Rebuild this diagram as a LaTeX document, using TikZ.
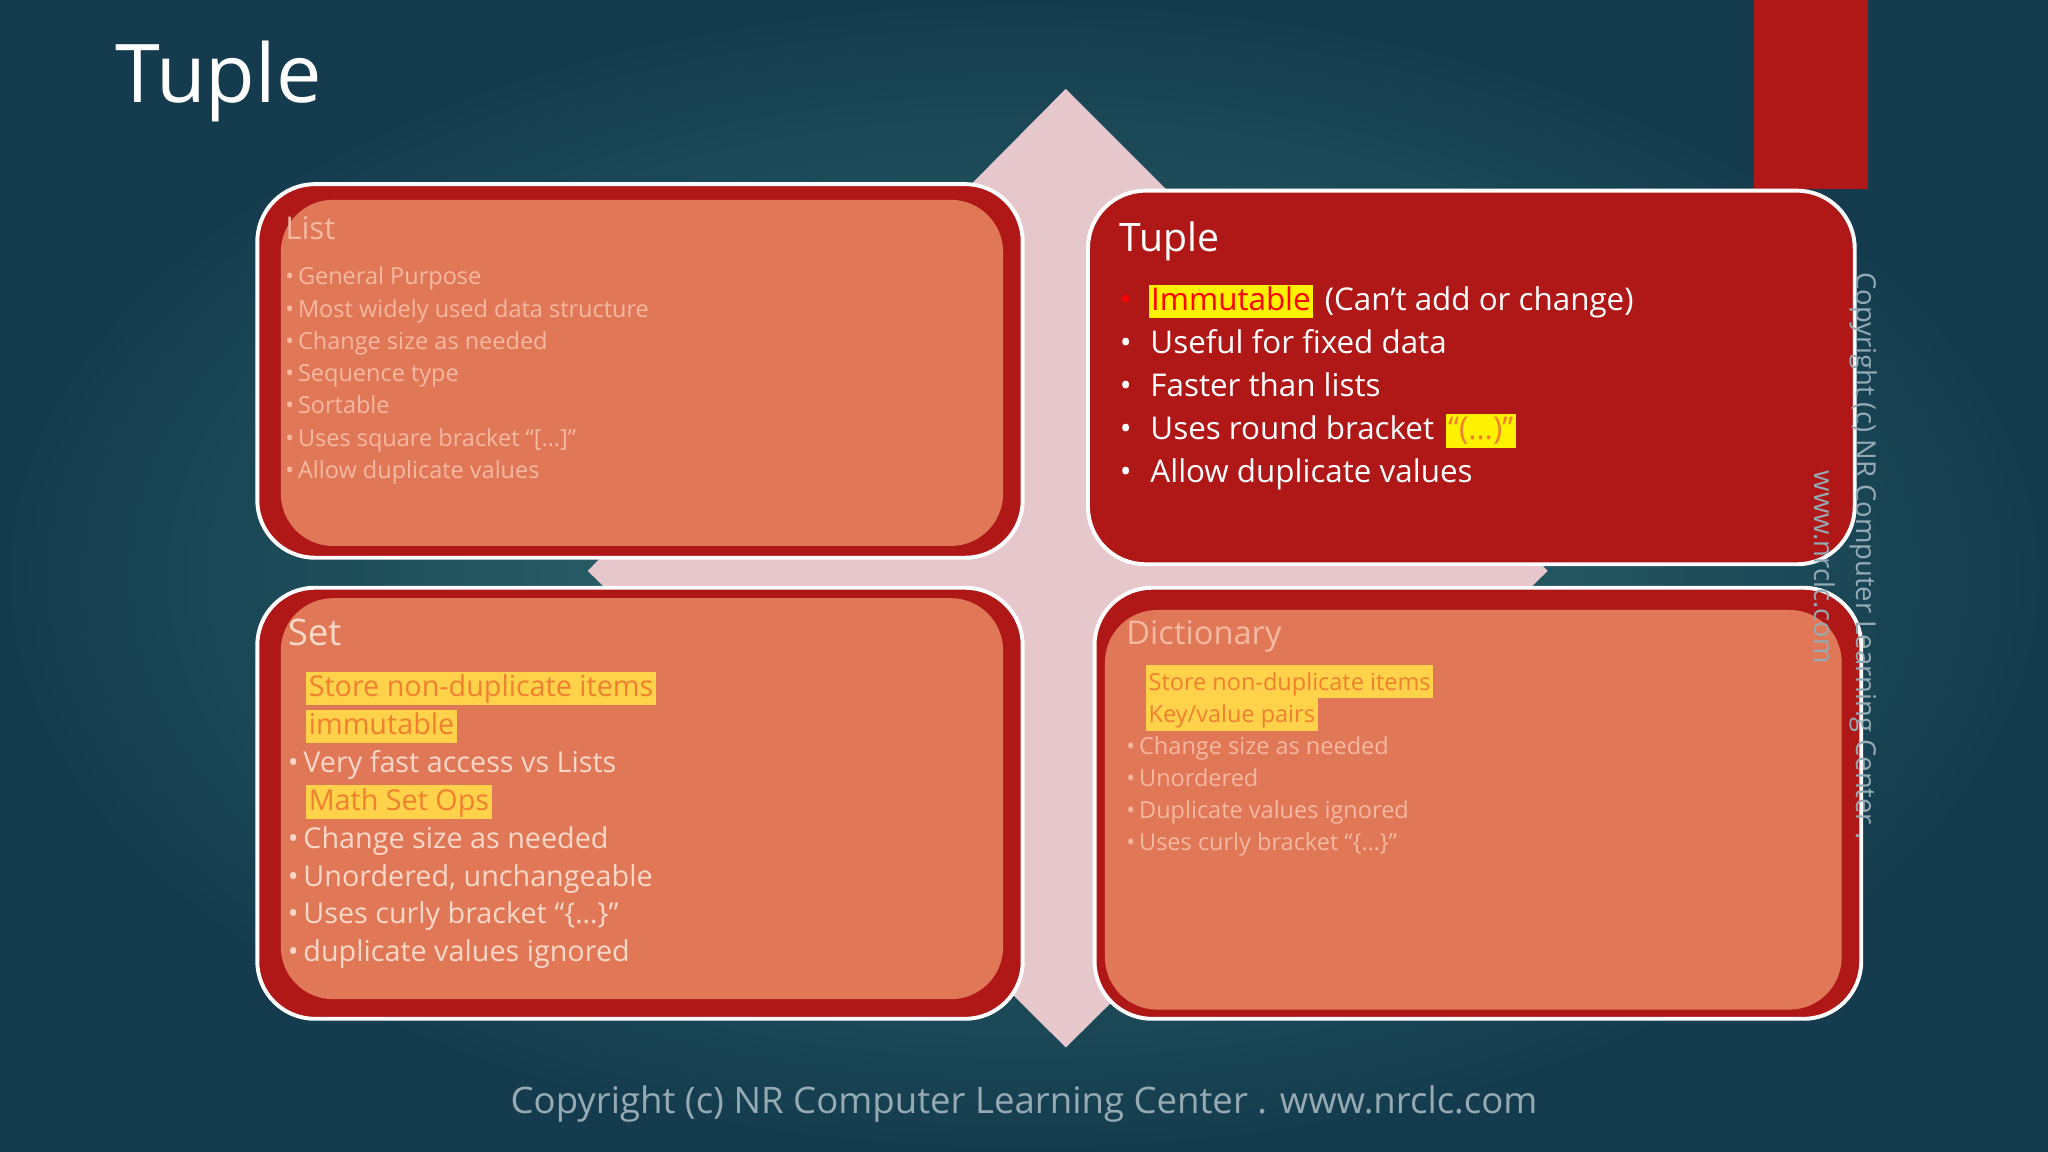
\documentclass[tikz,border=0pt]{standalone}
\usepackage{fontspec}
\setmainfont{Open Sans}
\begin{document}
\begin{tikzpicture}[x=0.5pt,y=-0.5pt,
  outerbox/.style={draw=white,line width=1.5pt,rounded corners=22pt},
  innerbox/.style={fill=orangebox,rounded corners=20pt},
  hl/.style={fill=hlyellow,inner sep=1pt,text=hltext},
  tl/.style={anchor=west,inner sep=0pt,text height=1.6ex,text depth=0.4ex}]
\definecolor{orangebox}{HTML}{E07858}
\definecolor{darkred}{HTML}{B01818}
\definecolor{hlyellow}{HTML}{FFD24A}
\definecolor{hltext}{HTML}{F08030}
\definecolor{faded}{HTML}{F5B8A0}
\definecolor{setx}{HTML}{FAD8C8}
\definecolor{grey}{RGB}{150,170,180}
\useasboundingbox (0,0) rectangle (1568,882);
\shade[inner color={rgb,255:red,52;green,112;blue,115},outer color={rgb,255:red,20;green,60;blue,78}] (0,0) rectangle (1568,882);
\fill[darkred] (1343,0) rectangle (1430,145);
\fill[fill={rgb,255:red,230;green,200;blue,204}] (816,68) -- (1185,437) -- (816,802) -- (450,437) -- cycle;
\node[anchor=west,inner sep=0pt,text=white,font=\fontsize{31}{36}\selectfont] (title) at (88,62) {Tuple};
% List
\draw[outerbox,fill=darkred] (197,141) rectangle (783,427);
\fill[innerbox] (215,153) rectangle (768,418);
\node[tl,text=faded,font=\fontsize{12}{14}\selectfont] (lt) at (218,177) {List};
\foreach \t [count=\i] in {General Purpose,Most widely used data structure,Change size as needed,Sequence type,Sortable,Uses square bracket “[…]”,Allow duplicate values}
  \node[tl,text=faded,font=\fontsize{9}{11}\selectfont] (l\i) at (218,{187+24.7*\i}) {•\,\t};
% Tuple
\draw[outerbox,fill=darkred] (833,146) rectangle (1420,432);
\node[tl,text=white,font=\fontsize{15}{18}\selectfont] (tt) at (857,186) {Tuple};
\begin{scope}[font=\fontsize{12}{14}\selectfont]
\node[tl,text=red] (b1) at (857,231) {•};
\node[tl,hl,fill=yellow,text=red] (t1) at (879,231) {Immutable};
\node[tl,text=white] (t1b) at ([xshift=4]t1.east) {(Can’t add or change)};
\node[tl,text=white] (t2) at (857,264) {•\hspace{0.6em}Useful for fixed data};
\node[tl,text=white] (t3) at (857,297) {•\hspace{0.6em}Faster than lists};
\node[tl,text=white] (t4) at (857,330) {•\hspace{0.6em}Uses round bracket};
\node[tl,hl,fill=yellow,text=hltext] (t4b) at ([xshift=4]t4.east) {“(…)”};
\node[tl,text=white] (t5) at (857,363) {•\hspace{0.6em}Allow duplicate values};
\end{scope}
% Set
\draw[outerbox,fill=darkred] (197,450) rectangle (783,780);
\fill[innerbox] (215,458) rectangle (768,765);
\node[tl,text=setx,font=\fontsize{14}{16}\selectfont] (st) at (220,488) {Set};
\begin{scope}[font=\fontsize{11}{13}\selectfont]
\node[tl,hl] (s1) at (234,527) {Store non-duplicate items};
\node[tl,hl] (s2) at (234,556) {immutable};
\node[tl,text=setx] (s3) at (220,585) {•\,Very fast access vs Lists};
\node[tl,hl] (s4) at (234,614) {Math Set Ops};
\node[tl,text=setx] (s5) at (220,643) {•\,Change size as needed};
\node[tl,text=setx] (s6) at (220,672) {•\,Unordered, unchangeable};
\node[tl,text=setx] (s7) at (220,701) {•\,Uses curly bracket “\{…\}”};
\node[tl,text=setx] (s8) at (220,730) {•\,duplicate values ignored};
\end{scope}
% Dictionary
\draw[outerbox,fill=darkred] (838,450) rectangle (1425,780);
\fill[innerbox] (846,467) rectangle (1410,773);
\node[tl,text=faded,font=\fontsize{12.5}{15}\selectfont] (dt) at (862,487) {Dictionary};
\begin{scope}[font=\fontsize{9}{11}\selectfont]
\node[tl,hl] (d1) at (877,522) {Store non-duplicate items};
\node[tl,hl] (d2) at (877,547) {Key/value pairs};
\node[tl,text=faded] (d3) at (862,571) {•\,Change size as needed};
\node[tl,text=faded] (d4) at (862,596) {•\,Unordered};
\node[tl,text=faded] (d5) at (862,620) {•\,Duplicate values ignored};
\node[tl,text=faded] (d6) at (862,645) {•\,Uses curly bracket “\{…\}”};
\end{scope}
% vertical copyright
\node[rotate=-90,anchor=west,inner sep=0pt,text=grey,font=\fontsize{10.5}{12}\selectfont] (vc) at (1427,208) {Copyright (c) NR Computer Learning Center .};
\node[rotate=-90,anchor=west,inner sep=0pt,text=grey,font=\fontsize{10.5}{12}\selectfont] (vw) at (1397,360) {www.nrclc.com};
\node[text=grey,font=\fontsize{14}{17}\selectfont] (foot) at (784,845) {Copyright (c) NR Computer Learning Center . www.nrclc.com};
\end{tikzpicture}
\end{document}
